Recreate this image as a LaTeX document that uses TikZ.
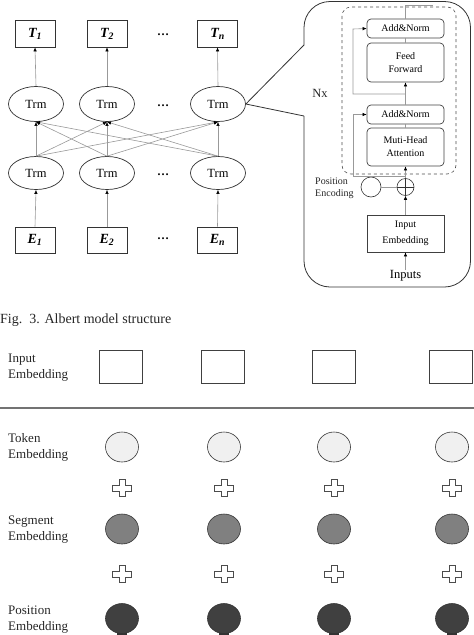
\documentclass[tikz,border=0pt]{standalone}
\usepackage{fontspec}
\setmainfont{Liberation Serif}
\usetikzlibrary{arrows.meta,shapes.geometric}
\begin{document}
\begin{tikzpicture}[x=1pt,y=-1pt,
  tbox/.style={draw=black!80, line width=0.7pt, minimum width=40pt, minimum height=27pt, inner sep=0pt, font=\fontsize{14}{16}\selectfont},
  trm/.style={ellipse, draw=black!80, line width=0.7pt, minimum width=55pt, minimum height=35pt, inner sep=0pt, font=\fontsize{12.5}{14}\selectfont},
  garr/.style={draw=black!40, line width=0.6pt, -{Latex[length=4pt,width=3.5pt,color=black]}},
  gline/.style={draw=black!40, line width=0.6pt},
  rbox/.style={draw=black!75, rounded corners=4pt, line width=0.7pt, minimum width=77pt, inner sep=0pt, align=center, font=\fontsize{10}{13}\selectfont},
  dots/.style={font=\fontsize{12}{14}\selectfont\bfseries, inner sep=0pt},
  lbl/.style={anchor=west, align=left, inner sep=0pt, font=\fontsize{13}{16}\selectfont, text=black!85},
  ebox/.style={draw=black!75, line width=0.8pt, minimum width=43pt, minimum height=33pt, inner sep=0pt},
  emb/.style={ellipse, draw=black!80, line width=0.6pt, minimum width=33pt, minimum height=30pt, inner sep=0pt},
  pluspic/.pic={\draw[black!70, line width=0.6pt, fill=white] (-3.2,-8.5) -- (3.2,-8.5) -- (3.2,-3.2) -- (9.5,-3.2) -- (9.5,3.2) -- (3.2,3.2) -- (3.2,8.5) -- (-3.2,8.5) -- (-3.2,3.2) -- (-9.5,3.2) -- (-9.5,-3.2) -- (-3.2,-3.2) -- cycle;}
]
\useasboundingbox (0,0) rectangle (474,635);
\clip (0,0) rectangle (474,635);

% ---------- left part ----------
\node[tbox] (T1) at (35,33.5) {\textbf{\textit{T\textsubscript{1}}}};
\node[tbox] (T2) at (107,33.5) {\textbf{\textit{T\textsubscript{2}}}};
\node[tbox] (Tn) at (217.5,33.5) {\textbf{\textit{T\textsubscript{n}}}};
\node[trm] (U1) at (36,104) {Trm};
\node[trm] (U2) at (107,104) {Trm};
\node[trm] (U3) at (218,104) {Trm};
\node[trm, minimum height=33pt] (L1) at (36,173) {Trm};
\node[trm, minimum height=33pt] (L2) at (107,173) {Trm};
\node[trm, minimum height=33pt] (L3) at (218,173) {Trm};
\node[tbox, minimum height=26pt] (E1) at (35,240) {\textbf{\textit{E\textsubscript{1}}}};
\node[tbox, minimum height=26pt] (E2) at (107,240) {\textbf{\textit{E\textsubscript{2}}}};
\node[tbox, minimum height=26pt] (En) at (217.5,240) {\textbf{\textit{E\textsubscript{n}}}};
\node[dots] (d1) at (163,35) {\ldots};
\node[dots] (d2) at (163,106) {\ldots};
\node[dots] (d3) at (163,175) {\ldots};
\node[dots] (d4) at (163,239) {\ldots};

\draw[garr] (U1.north) -- (T1.south);
\draw[garr] (U2.north) -- (T2.south);
\draw[garr] (U3.north) -- (Tn.south);
\draw[garr] (E1.north) -- (L1.south);
\draw[garr] (E2.north) -- (L2.south);
\draw[garr] (En.north) -- (L3.south);
\foreach \a in {L1,L2,L3}{
  \foreach \b in {U1,U2,U3}{
    \draw[garr] (\a.north) -- (\b.south);
  }
}

% ---------- right panel ----------
\coordinate (cA) at (304,45);
\coordinate (cB) at (304,116);
\draw[black!80, line width=0.8pt, rounded corners=26pt] (cA) -- (304,1.5) -- (470.5,1.5) -- (470.5,287) -- (304,287) -- (cB);
\draw[black!80, line width=0.8pt] (cA) -- (U3.east) -- (cB);

\draw[black!70, dashed, line width=0.6pt, rounded corners=9pt] (342,7) rectangle (456,174);

\node[rbox, minimum height=19pt] (AN1) at (405.5,28.5) {Add\&Norm};
\node[rbox, minimum height=39pt] (FF) at (405.5,62.5) {Feed\\Forward};
\node[rbox, minimum height=19pt] (AN2) at (405.5,114.5) {Add\&Norm};
\node[rbox, minimum height=38pt] (MHA) at (405.5,147) {Muti-Head\\Attention};
\node[rbox, rounded corners=0pt, minimum height=37pt, font=\fontsize{10}{16}\selectfont] (IE) at (405.5,233.5) {Input\\Embedding};
\node[inner sep=0pt, font=\fontsize{12.5}{14}\selectfont] (IN) at (405.5,276) {Inputs};
\node[circle, draw=black!80, line width=0.6pt, minimum size=17pt, inner sep=0pt] (OP) at (405.5,187) {};
\draw[black!80, line width=0.6pt] (OP.north) -- (OP.south) (OP.west) -- (OP.east);
\node[circle, draw=black!80, line width=0.6pt, minimum size=20pt, inner sep=0pt] (PE) at (371,187) {};
\node[lbl, font=\fontsize{10}{12}\selectfont] (PEt) at (315,188) {Position\\Encoding};
\node[inner sep=0pt, font=\fontsize{12.5}{14}\selectfont, text=black!85] (NX) at (320,93) {Nx};

\coordinate (j1) at (405.5,176);
\coordinate (j2) at (405.5,94);
\coordinate (outA) at (405.5,5);
\coordinate (outB) at (433,5);

\draw[garr] (IN.north) -- (IE.south);
\draw[garr] (IE.north) -- (OP.south);
\draw[garr] (OP.north) -- (MHA.south);
\draw[gline] (MHA.north) -- (AN2.south);
\draw[garr] (AN2.north) -- (FF.south);
\draw[gline] (FF.north) -- (AN1.south);
\draw[gline] (AN1.north) -- (outA) -- (outB);
\draw[gline] (PE.east) -- (OP.west);
\draw[garr] (j1) -- (353,176) -- (353,114.5) -- (AN2.west);
\draw[garr] (j2) -- (353,94) -- (353,29) -- (AN1.west);

% ---------- caption ----------
\node[anchor=west, inner sep=0pt, font=\fontsize{14}{16}\selectfont, text=black!85] (cap) at (0,320) {Fig.~~3. Albert model structure};

% ---------- lower figure ----------
\node[lbl] (lIE) at (8,368) {Input\\Embedding};
\node[ebox] (B1) at (120.5,366.5) {};
\node[ebox] (B2) at (222.5,366.5) {};
\node[ebox] (B3) at (334,366.5) {};
\node[ebox] (B4) at (451,366.5) {};
\draw[black!55, line width=1.6pt] (0,408) -- (474,408);

\node[lbl] (lTE) at (8,447) {Token\\Embedding};
\node[lbl] (lSE) at (8,530) {Segment\\Embedding};
\node[lbl] (lPE) at (8,620) {Position\\Embedding};

\foreach \x [count=\i] in {122,224,334,452}{
  \fill[black!80] (\x-5,628) rectangle (\x+5,640);
  \node[emb, fill=black!6] (tok\i) at (\x,447) {};
  \node[emb, fill=black!50] (seg\i) at (\x,529) {};
  \node[emb, fill=black!75] (pos\i) at (\x,618.5) {};
  \pic at (\x,488) {pluspic};
  \pic at (\x,574) {pluspic};
}
\end{tikzpicture}
\end{document}
